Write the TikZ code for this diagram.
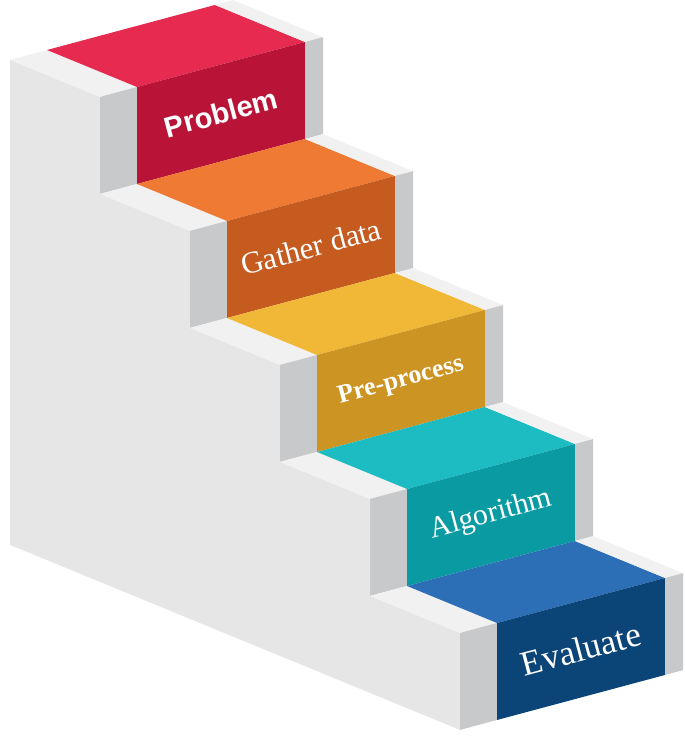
\documentclass[tikz,border=0pt]{standalone}
\usepackage{fontspec}
\newfontfamily\sansb{Liberation Sans}
\newfontfamily\serif{Liberation Serif}
\definecolor{wallside}{HTML}{E6E6E6}
\definecolor{greyfront}{HTML}{C8C9CA}
\definecolor{greytop}{HTML}{F1F1F1}
\definecolor{tA}{HTML}{E62A50}\definecolor{rA}{HTML}{B91438}
\definecolor{tB}{HTML}{EE7A33}\definecolor{rB}{HTML}{C55B1F}
\definecolor{tC}{HTML}{F0B836}\definecolor{rC}{HTML}{CC9423}
\definecolor{tD}{HTML}{1DBCC3}\definecolor{rD}{HTML}{0A9AA2}
\definecolor{tE}{HTML}{2D6FB7}\definecolor{rE}{HTML}{0B4477}
\tikzset{lbl/.style={text=white,rotate=15,inner sep=0pt}}
\begin{document}
\begin{tikzpicture}[x={(1pt,0.268pt)},y={(0pt,1pt)},z={(-90pt,37pt)}]
\useasboundingbox[fill=white] (0pt,0pt) rectangle (685pt,-737pt);
\begin{scope}[shift={(0pt,-123.7pt)}]
% left wall
\fill[wallside] (100,0,1) -- (100,0,0) -- (100,-97,0) -- (100,-97,-1) -- (100,-194,-1) -- (100,-194,-2) -- (100,-291,-2) -- (100,-291,-3) -- (100,-388,-3) -- (100,-388,-4) -- (100,-485,-4) -- (100,-485,1) -- cycle;
\foreach \t/\r [count=\i from 0] in {tA/rA,tB/rB,tC/rC,tD/rD,tE/rE}{
  \pgfmathsetmacro\Y{-97*\i}
  \pgfmathsetmacro\B{-97*\i-97}
  \pgfmathsetmacro\Z{-\i}
  \pgfmathsetmacro\Zb{-\i+1}
  % treads
  \fill[greytop] (100,\Y,\Z) -- (137,\Y,\Z) -- (137,\Y,\Zb) -- (100,\Y,\Zb) -- cycle;
  \fill[\t] (137,\Y,\Z) -- (305,\Y,\Z) -- (305,\Y,\Zb) -- (137,\Y,\Zb) -- cycle;
  \fill[greytop] (305,\Y,\Z) -- (323,\Y,\Z) -- (323,\Y,\Zb) -- (305,\Y,\Zb) -- cycle;
  % risers
  \fill[greyfront] (100,\Y,\Z) -- (137,\Y,\Z) -- (137,\B,\Z) -- (100,\B,\Z) -- cycle;
  \fill[\r] (137,\Y,\Z) -- (305,\Y,\Z) -- (305,\B,\Z) -- (137,\B,\Z) -- cycle;
  \fill[greyfront] (305,\Y,\Z) -- (323,\Y,\Z) -- (323,\B,\Z) -- (305,\B,\Z) -- cycle;
}
\node[lbl,font=\sansb\bfseries\fontsize{29}{32}\selectfont] (p) at (221,-48.5,0) {Problem};
\node[lbl,font=\serif\fontsize{31}{34}\selectfont] (g) at (221,-145.5,-1) {Gather data};
\node[lbl,font=\serif\bfseries\fontsize{26}{30}\selectfont] (pp) at (221,-242.5,-2) {Pre-process};
\node[lbl,font=\serif\fontsize{30}{34}\selectfont] (a) at (221,-339.5,-3) {Algorithm};
\node[lbl,font=\serif\fontsize{35}{38}\selectfont] (e) at (221,-436.5,-4) {Evaluate};
\end{scope}
\end{tikzpicture}
\end{document}
